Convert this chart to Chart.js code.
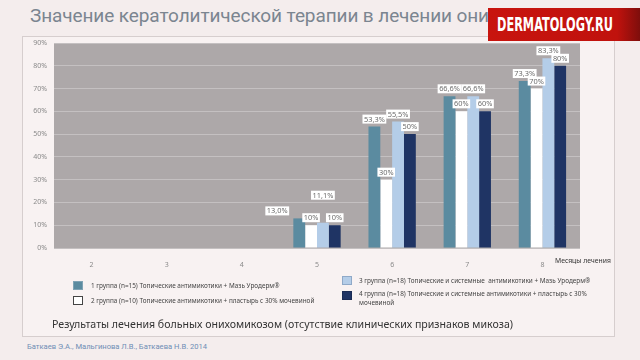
<!DOCTYPE html>
<html><head><meta charset="utf-8">
<script src="https://cdn.jsdelivr.net/npm/chart.js@4.4.1/dist/chart.umd.min.js"></script>
<style>
html,body{margin:0;padding:0;width:640px;height:360px;overflow:hidden;background:#F4EDED;font-family:Roboto,"Noto Sans",sans-serif;}
#card{position:absolute;left:22px;top:36px;width:593px;height:301px;background:#F8F2F2;border:1px solid #D6CECE;box-sizing:border-box;}
#title{position:absolute;left:30px;top:4px;font-size:19px;color:#7B8590;white-space:nowrap;letter-spacing:-0.1px;}
#logo{position:absolute;left:488px;top:8px;width:152px;height:33px;background:linear-gradient(90deg,#C8140E 0%,#C0120D 85%,#7E0E0C 100%);z-index:5;overflow:hidden;}
#logo span{position:absolute;left:9px;top:5px;color:#fff;font-family:"Liberation Sans Narrow","DejaVu Sans Condensed",sans-serif;font-weight:bold;font-size:19px;line-height:22px;white-space:nowrap;transform-origin:0 50%;}
canvas{position:absolute;left:0;top:0;z-index:2;}
.leg{position:absolute;font-family:"Noto Sans",sans-serif;font-size:6.4px;color:#444;white-space:nowrap;z-index:3;line-height:9px;}
.sw{position:absolute;width:10px;height:9px;box-sizing:border-box;z-index:3;}
#xt{position:absolute;left:555px;top:256px;font-family:"Noto Sans",sans-serif;font-size:6.8px;color:#333;z-index:3;white-space:nowrap;}
#res{position:absolute;left:52px;top:317px;font-family:"Noto Sans",sans-serif;font-size:10.6px;color:#333;white-space:nowrap;z-index:3;}
#cite{position:absolute;left:27px;top:342px;font-family:Roboto,sans-serif;font-size:7.6px;color:#6F8DB5;white-space:nowrap;}
</style></head><body>
<div id="title">Значение кератолитической терапии в лечении онихомикоза</div>
<div id="logo"><span id="logotext">DERMATOLOGY.RU</span></div>
<div id="card"></div>
<canvas id="c" width="640" height="360"></canvas>
<div id="xt">Месяцы лечения</div>
<div class="sw" style="left:73px;top:281px;background:#5B8BA0;border:1px solid #7FA3B5"></div>
<div class="leg" style="left:91px;top:281px">1 группа (n=15) Топические антимикотики + Мазь Уродерм®</div>
<div class="sw" style="left:73px;top:296px;background:#fff;border:1px solid #444"></div>
<div class="leg" style="left:91px;top:296px">2 группа (n=10) Топические антимикотики + пластырь с 30% мочевиной</div>
<div class="sw" style="left:342px;top:276px;background:#B4CDE8;border:1px solid #8FA9C8"></div>
<div class="leg" style="left:359px;top:276px">3 группа (n=18) Топические и системные&nbsp; антимикотики + Мазь Уродерм®</div>
<div class="sw" style="left:342px;top:291px;background:#1F3464;border:1px solid #1A2B55"></div>
<div class="leg" style="left:359px;top:289px">4 группа (n=18) Топические и системные антимикотики + пластырь с 30%<br>мочевиной</div>
<div id="res">Результаты лечения больных онихомикозом (отсутствие клинических признаков микоза)</div>
<div id="cite">Баткаев Э.А., Мальгинова Л.В., Баткаева Н.В. 2014</div>
<script>
(function(){
  const lt = document.getElementById('logotext');
  const w = lt.getBoundingClientRect().width;
  lt.style.transform = 'scaleX(' + (116 / w) + ')';
})();

const months = ['2','3','4','5','6','7','8'];
const yTicks = [0,10,20,30,40,50,60,70,80,90];
const group1 = [null,null,null,13.0,53.3,66.6,73.3];
const group2 = [null,null,null,10,30,60,70];
const group3 = [null,null,null,11.1,55.5,66.6,83.3];
const group4 = [null,null,null,10,50,60,80];
const group1Text = ['','','','13,0%','53,3%','66,6%','73,3%'];
const group2Text = ['','','','10%','30%','60%','70%'];
const group3Text = ['','','','11,1%','55,5%','66,6%','83,3%'];
const group4Text = ['','','','10%','50%','60%','80%'];
const texts = [group1Text, group2Text, group3Text, group4Text];

const labelShift = {'0-3':{dx:-22,dy:0}, '2-3':{dx:0,dy:-20}};

const bgPlugin = {
  id:'bg',
  beforeDraw(chart){
    const {ctx, chartArea:a} = chart;
    ctx.save(); ctx.fillStyle='#ADA8A9';
    ctx.fillRect(a.left,a.top,a.right-a.left,a.bottom-a.top);
    ctx.restore();
  }
};
const lblPlugin = {
  id:'lbl',
  afterDatasetsDraw(chart){
    const ctx = chart.ctx;
    ctx.save();
    ctx.font = '7.4px "Noto Sans", sans-serif';
    ctx.textAlign='center'; ctx.textBaseline='middle';
    chart.data.datasets.forEach((ds,di)=>{
      const meta = chart.getDatasetMeta(di);
      meta.data.forEach((bar,i)=>{
        const t = texts[di][i];
        if(!t || ds.data[i]==null) return;
        const s = labelShift[di+'-'+i] || {dx:0,dy:0};
        const w = ctx.measureText(t).width + 3;
        const h = 9;
        const cx = bar.x + s.dx;
        const bottom = bar.y - 3 + s.dy;
        ctx.fillStyle='#FFFFFF';
        ctx.fillRect(cx-w/2, bottom-h, w, h);
        ctx.fillStyle='#6E6E6E';
        ctx.fillText(t, cx, bottom-h/2+0.5);
      });
    });
    ctx.restore();
  }
};

new Chart(document.getElementById('c'), {
  type:'bar',
  data:{
    labels: months,
    datasets:[
      {label:'1 группа', data:group1, backgroundColor:'#5B8BA0'},
      {label:'2 группа', data:group2, backgroundColor:'#FFFFFF'},
      {label:'3 группа', data:group3, backgroundColor:'#B4CDE8'},
      {label:'4 группа', data:group4, backgroundColor:'#1F3464'}
    ]
  },
  options:{
    responsive:false, animation:false,
    devicePixelRatio:1,
    categoryPercentage:0.63, barPercentage:1.0,
    layout:{padding:{top:43,right:60,bottom:92,left:0}},
    plugins:{legend:{display:false}, tooltip:{enabled:false}},
    scales:{
      x:{
        grid:{display:false}, border:{display:false},
        ticks:{color:'#8A8A8A', font:{size:7, family:'"Noto Sans", sans-serif'}, padding:5},
        afterFit(s){ s.height = 20; }
      },
      y:{
        min:0, max:90,
        afterBuildTicks(s){ s.ticks = yTicks.map(v=>({value:v})); },
        grid:{color:'#C4C0C1', lineWidth:1, drawTicks:false},
        border:{display:false},
        ticks:{color:'#8A8A8A', font:{size:7, family:'"Noto Sans", sans-serif'}, padding:7, callback:v=>v+'%'},
        afterFit(s){ s.width = 54; }
      }
    }
  },
  plugins:[bgPlugin, lblPlugin]
});
</script>
</body></html>
